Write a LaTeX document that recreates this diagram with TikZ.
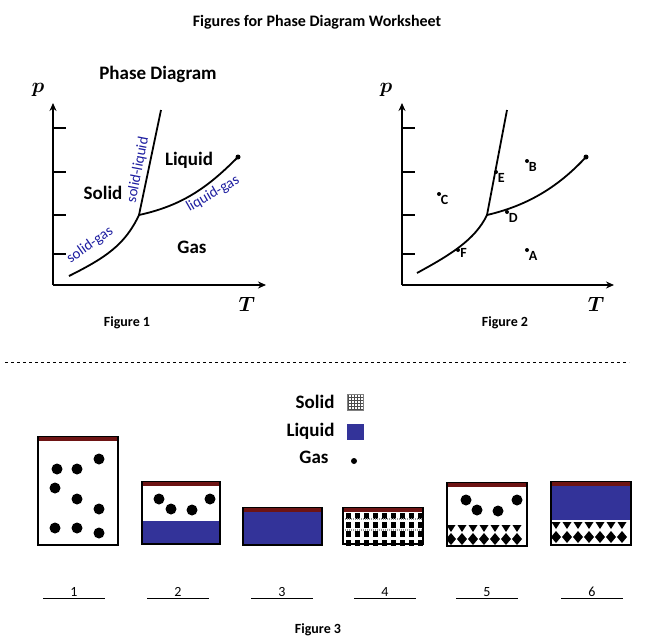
\documentclass[tikz,border=0pt]{standalone}
\usepackage{amsmath,amssymb}
\usepackage{fontspec}
\setmainfont{Carlito}
\usetikzlibrary{arrows.meta,patterns}
\definecolor{liq}{RGB}{51,51,153}
\definecolor{lid}{RGB}{110,20,20}
\definecolor{blab}{RGB}{30,30,160}
\tikzset{
 ax/.style={line width=1.6pt,-{Stealth[length=8pt,width=7pt]}},
 tk/.style={line width=1.4pt},
 crv/.style={line width=1.8pt},
 lbl/.style={font=\bfseries\fontsize{19}{19}\selectfont},
 capt/.style={font=\bfseries\fontsize{14}{14}\selectfont},
 ttl/.style={font=\bfseries\fontsize{16}{16}\selectfont},
 blue lbl/.style={text=blab,font=\fontsize{15}{15}\selectfont,inner sep=1pt},
 var/.style={font=\fontsize{20}{20}\selectfont},
 pt/.style={circle,fill=black,inner sep=0pt,minimum size=5pt},
 gd/.style={circle,fill=black,inner sep=0pt,minimum size=11pt},
 box/.style={draw=black,line width=2pt},
 num/.style={font=\fontsize{14}{14}\selectfont,inner sep=1pt}
}
\begin{document}
\begin{tikzpicture}[x=1pt,y=-1pt]
\useasboundingbox (0,0) rectangle (650,643);
\node[ttl] (title) at (317,22) {Figures for Phase Diagram Worksheet};
% Figure 1
\coordinate (o1) at (53,285);
\coordinate (yt1) at (53,103);
\coordinate (xt1) at (266,285);
\draw[ax] (o1) -- (yt1);
\draw[ax] (o1) -- (xt1);
\foreach \yy in {128,172,215,254}{\draw[tk] (53,\yy) -- (66,\yy);}
\coordinate (tp1) at (139,215);
\coordinate (sg1) at (69,276);
\coordinate (sl1) at (161,110);
\node[pt] (cp1) at (238,157) {};
\draw[crv] (sg1) .. controls (105,258) and (125,245) .. (tp1);
\draw[crv] (tp1) -- (sl1);
\draw[crv] (tp1) .. controls (185,205) and (210,185) .. (cp1.center);
\node[lbl] (pd) at (158,74) {Phase Diagram};
\node[var] (p1) at (38,90) {$\boldsymbol{p}$};
\node[var] (T1) at (247,304) {$\boldsymbol{T}$};
\node[lbl] (s1) at (103,193) {Solid};
\node[lbl] (l1) at (189,160) {Liquid};
\node[lbl] (g1) at (192,247) {Gas};
\node[blue lbl,rotate=35] (sgl) at (90,245) {solid-gas};
\node[blue lbl,rotate=79] (sll) at (138,170) {solid-liquid};
\node[blue lbl,rotate=30] (lgl) at (213,194) {liquid-gas};
\node[capt] (f1) at (127,323) {Figure 1};
% Figure 2
\coordinate (o2) at (402,285);
\coordinate (yt2) at (402,103);
\coordinate (xt2) at (614,285);
\draw[ax] (o2) -- (yt2);
\draw[ax] (o2) -- (xt2);
\foreach \yy in {128,172,215,254}{\draw[tk] (402,\yy) -- (415,\yy);}
\coordinate (tp2) at (487,215);
\coordinate (sg2) at (417,273);
\coordinate (sl2) at (507,110);
\node[pt] (cp2) at (586,157) {};
\draw[crv] (sg2) .. controls (450,255) and (475,240) .. (tp2);
\draw[crv] (tp2) -- (sl2);
\draw[crv] (tp2) .. controls (530,205) and (560,185) .. (cp2.center);
\node[var] (p2) at (386,90) {$\boldsymbol{p}$};
\node[var] (T2) at (596,304) {$\boldsymbol{T}$};
\node[pt,minimum size=4pt] (E) at (496,172) {}; \node[capt,anchor=north west,inner sep=0pt] (El) at (E.south east) {E};
\node[pt,minimum size=4pt] (B) at (527,161) {}; \node[capt,anchor=north west,inner sep=0pt] (Bl) at (B.south east) {B};
\node[pt,minimum size=4pt] (C) at (439,194) {}; \node[capt,anchor=north west,inner sep=0pt] (Cl) at (C.south east) {C};
\node[pt,minimum size=4pt] (D) at (507,212) {}; \node[capt,anchor=north west,inner sep=0pt] (Dl) at (D.south east) {D};
\node[pt,minimum size=4pt] (F) at (458,250) {}; \node[capt,anchor=west,inner sep=0pt,yshift=-3pt] (Fl) at (F.east) {F};
\node[pt,minimum size=4pt] (A) at (527,250) {}; \node[capt,anchor=north west,inner sep=0pt] (Al) at (A.south east) {A};
\node[capt] (f2) at (505,323) {Figure 2};
% separator
\coordinate (d0) at (5,362); \coordinate (d1) at (629,362);
\draw[dashed,line width=0.6pt] (d0) -- (d1);
% legend
\node[lbl,anchor=east] (ls) at (338,402) {Solid};
\node[draw=gray,pattern=grid,pattern color=black!70,minimum width=16pt,minimum height=16pt,inner sep=0pt] (lss) at (355,402) {};
\node[lbl,anchor=east] (ll) at (338,431) {Liquid};
\node[fill=liq,minimum width=17pt,minimum height=16pt,inner sep=0pt] (lls) at (355,432) {};
\node[lbl,anchor=east] (lg) at (332,457) {Gas};
\node[pt,minimum size=6pt] (lgs) at (354,461) {};
% containers
% 1
\draw[box] (38,437) rectangle (118,545);
\fill[lid] (39,437) rectangle (117,441);
\foreach \a/\b in {57/469,77/469,99/459,55/488,77/499,99/509,55/528,77/528,99/533}{\node[gd] at (\a,\b) {};}
% 2
\fill[liq] (142,521) rectangle (220,544);
\draw[box] (142,482) rectangle (220,544);
\fill[lid] (143,482) rectangle (219,486);
\foreach \a/\b in {159/499,171/509,192/510,210/499}{\node[gd] at (\a,\b) {};}
% 3
\fill[liq] (243,508) rectangle (322,545);
\draw[box] (243,508) rectangle (322,545);
\fill[lid] (244,508) rectangle (321,512);
% 4
\fill[white] (343,508) rectangle (423,544);
\foreach \xx in {346,355,...,420}{\foreach \yy in {513,522,...,540}{\fill (\xx,\yy) rectangle (\xx+5,\yy+6);}}
\foreach \yy in {519,530}{\draw[line width=2pt,black!40,dash pattern=on 1pt off 1pt] (343,\yy) -- (423,\yy);}
\draw[box] (343,508) rectangle (423,544);
\fill[lid] (344,508) rectangle (422,512);
% 5
\begin{scope}
\clip (447,524) rectangle (527,546);
\foreach \xx in {451,462,...,527}{\fill (\xx-4.5,525) -- (\xx+4.5,525) -- (\xx,532) -- cycle;}
\foreach \xx in {451,462,...,527}{\fill (\xx,533) -- (\xx+5,539) -- (\xx,545) -- (\xx-5,539) -- cycle;}
\end{scope}
\draw[box] (447,483) rectangle (527,546);
\fill[lid] (448,483) rectangle (526,487);
\foreach \a/\b in {466/500,477/510,498/511,517/500}{\node[gd] at (\a,\b) {};}
% 6
\fill[liq] (551,482) rectangle (631,520);
\begin{scope}
\clip (551,520) rectangle (631,545);
\foreach \xx in {556,567,...,631}{\fill (\xx-4.5,522) -- (\xx+4.5,522) -- (\xx,529) -- cycle;}
\foreach \xx in {556,567,...,631}{\fill (\xx,531) -- (\xx+5,537) -- (\xx,543) -- (\xx-5,537) -- cycle;}
\end{scope}
\draw[box] (551,482) rectangle (631,545);
\fill[lid] (552,482) rectangle (630,486);
% numbers
\foreach \i/\cx in {1/74,2/178,3/282,4/385,5/487,6/592}{
 \node[num,anchor=south] (n\i) at (\cx,598) {\i};
 \draw[line width=0.6pt] (\cx-31,598) -- (\cx+31,598);}
\node[capt] (f3) at (318,630) {Figure 3};
\end{tikzpicture}
\end{document}
